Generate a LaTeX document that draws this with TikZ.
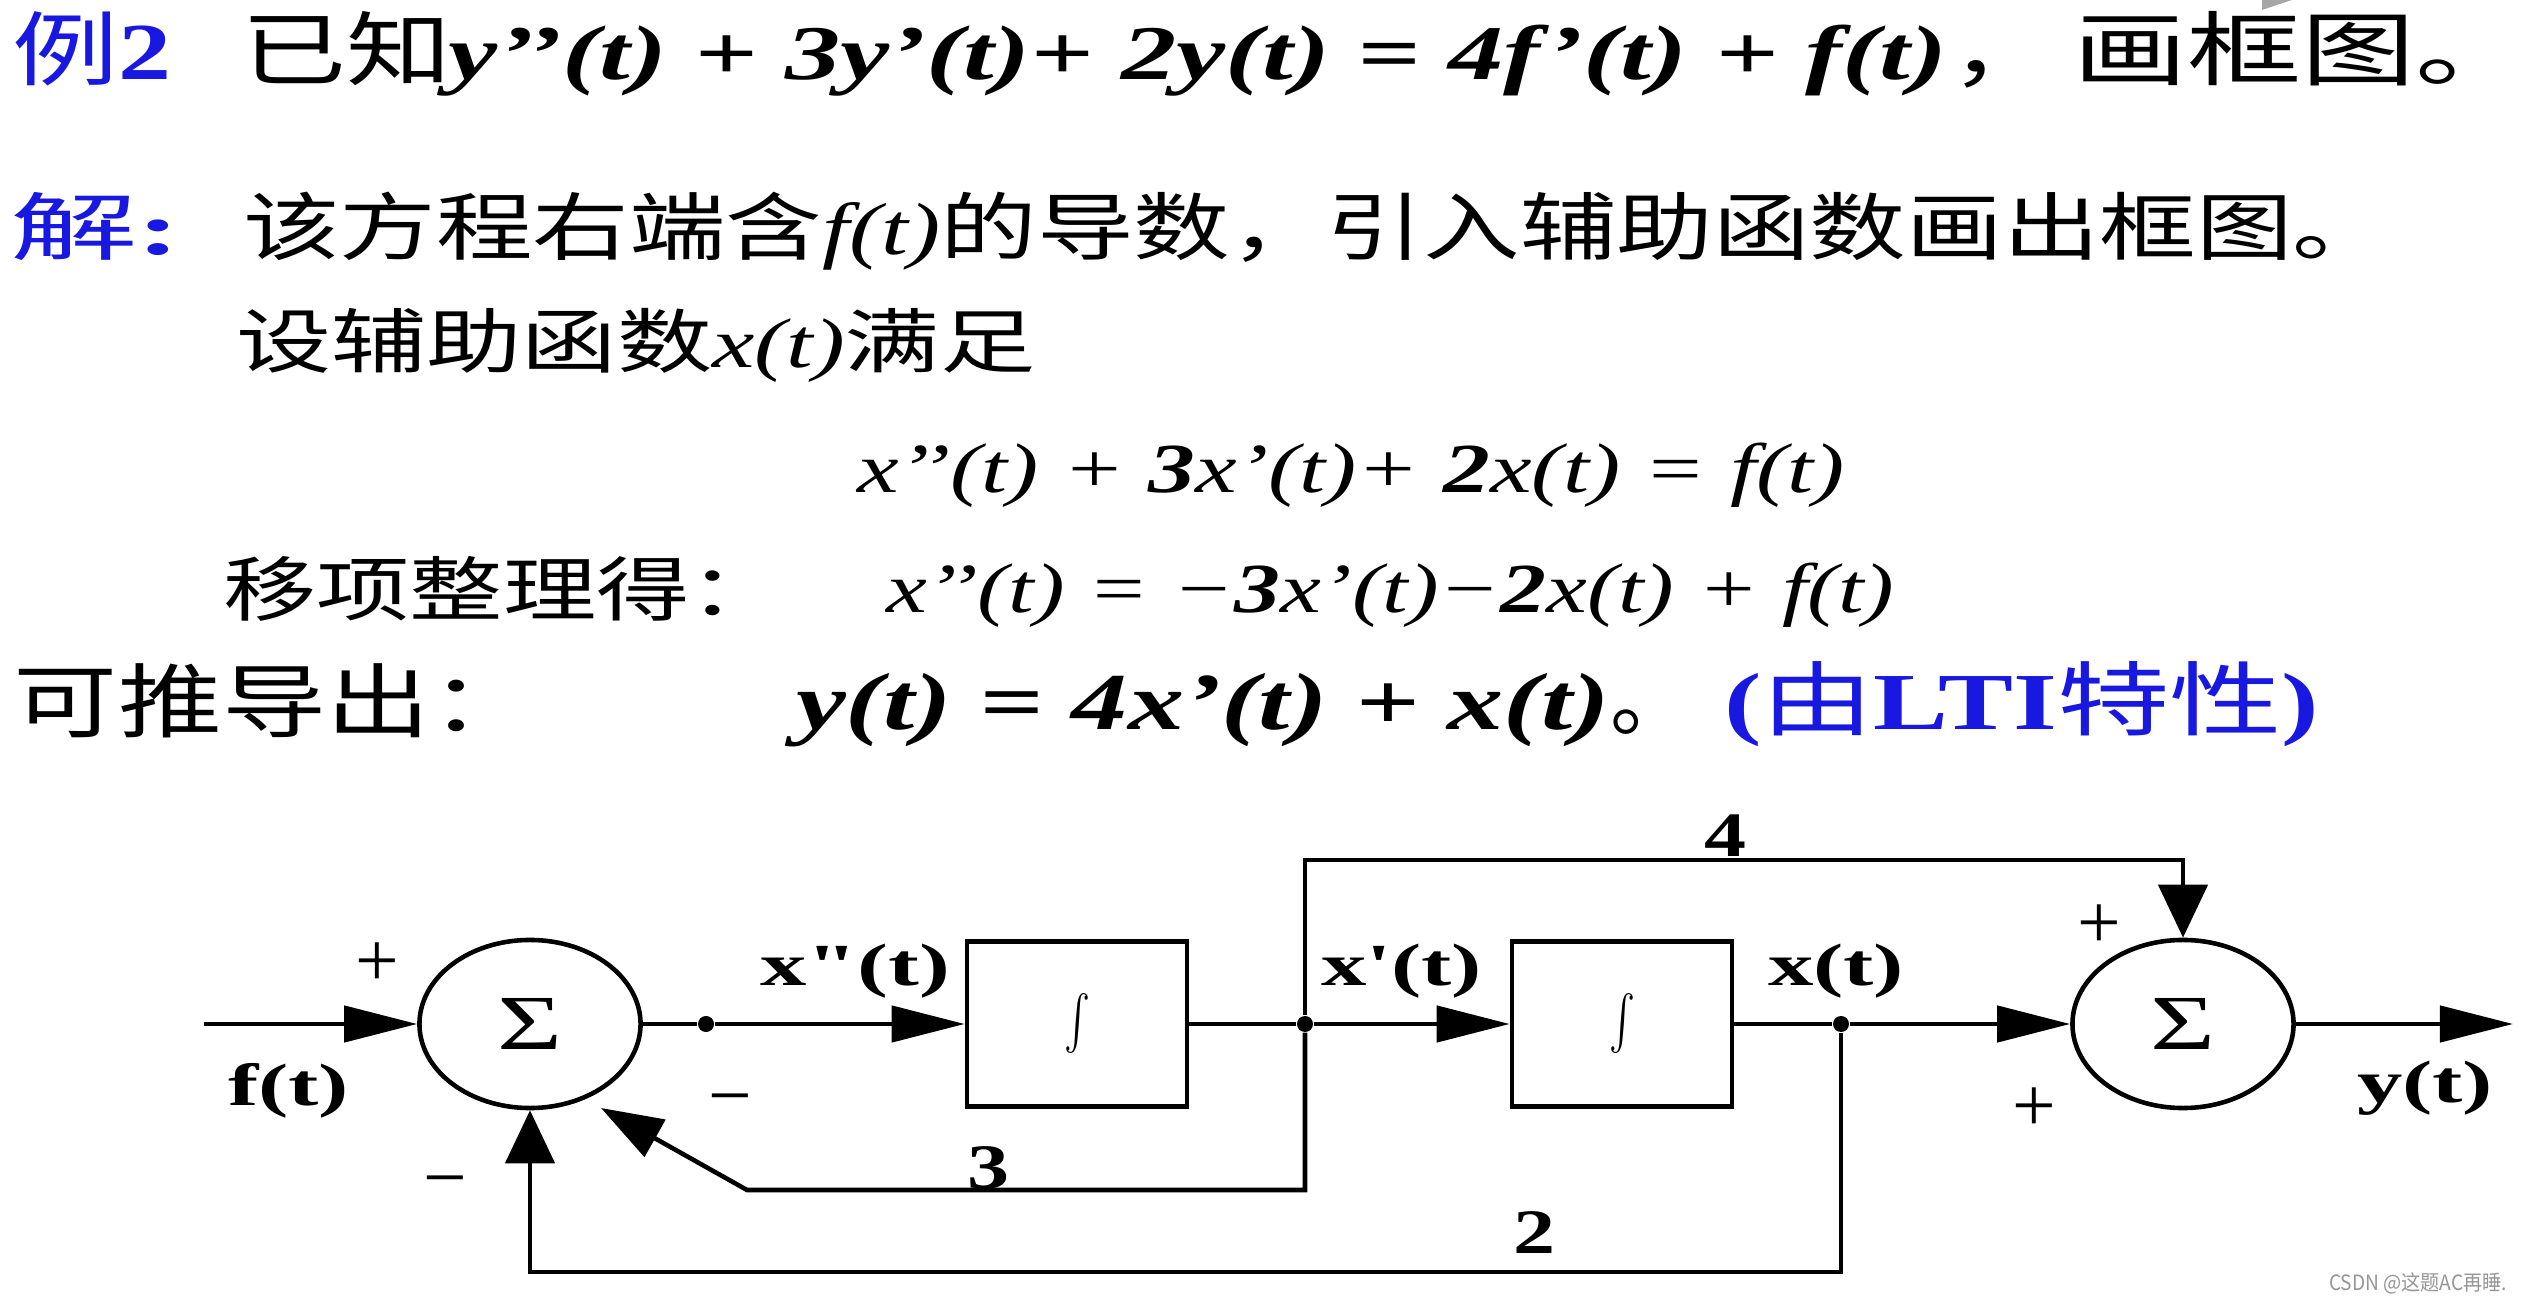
\documentclass[tikz,border=0pt]{standalone}
\usepackage{fontspec}
\usepackage{graphicx}
\setmainfont{Liberation Serif}
\newfontfamily\cjk{Noto Sans CJK SC}
\usetikzlibrary{arrows.meta,shapes.geometric}
\definecolor{blueT}{RGB}{24,24,225}
\definecolor{wmgray}{RGB}{150,150,150}
\newcommand\zh[1]{{\cjk\mdseries #1}}
\newcommand\fitw[2]{\resizebox{#1}{\height}{#2}}
\newcommand\fsz[1]{\fontsize{#1}{#1}\selectfont}
\newcommand\intg{\resizebox*{0.26cm}{0.6cm}{$\int$}}
\newcommand\sumsym{\resizebox{0.65cm}{0.51cm}{Σ}}
\tikzset{
  txt/.style={anchor=base west, inner sep=0pt, outer sep=0pt},
  ln/.style={line width=1.3pt},
  harr/.style={ln, -{Triangle[length=7.3mm,width=3.6mm]}},
  varr/.style={ln, -{Triangle[length=5.3mm,width=4.9mm]}},
  darr/.style={ln, -{Triangle[length=6.2mm,width=4.2mm]}},
  sumnode/.style={ellipse, draw, ln, minimum width=2.21cm, minimum height=1.68cm, inner sep=0pt},
  intbox/.style={rectangle, draw, ln, minimum width=2.2cm, minimum height=1.65cm, inner sep=0pt},
  dot/.style={circle, fill, inner sep=0pt, minimum size=0.16cm},
  sgn/.style={inner sep=0pt, font=\fsz{22}},
  gain/.style={anchor=base, inner sep=0pt},
}
\begin{document}
\begin{tikzpicture}[x=0.01cm,y=-0.01cm]
\fill[white] (0,0) rectangle (2524,1301);
\useasboundingbox (0,0) rectangle (2524,1301);
% ---------- text ----------
\node[txt,text=blueT] (t1a) at (12,80) {\fsz{23}\fitw{1.59cm}{\zh{例}\textbf{2}}};
\node[txt] (t1b) at (241,80) {\fsz{23}\fitw{2.10cm}{\zh{已知}}};
\node[txt] (t1c) at (448,80) {\fsz{22}\fitw{14.98cm}{\bfseries\itshape y’’(t) + 3y’(t)+ 2y(t) = 4f’(t) + f(t)}};
\node[txt] (t1d) at (1950,80) {\fsz{23}\fitw{1.05cm}{\zh{，}}};
\node[txt] (t1e) at (2073,80) {\fsz{23}\fitw{4.56cm}{\zh{画框图。}}};

\node[txt,text=blueT] (t2a) at (10,255) {\fsz{21}\fitw{1.70cm}{\zh{解}\textbf{:}}};
\node[txt] (t2b) at (243,255) {\fsz{21}\fitw{21.45cm}{\zh{该方程右端含}\textit{f(t)}\zh{的导数，引入辅助函数画出框图。}}};

\node[txt] (t3) at (236,368) {\fsz{20}\fitw{7.99cm}{\zh{设辅助函数}\textit{x(t)}\zh{满足}}};

\node[txt] (t4) at (857,493) {\fsz{20}\fitw{9.87cm}{\itshape x’’(t) + \textbf{3}x’(t)+ \textbf{2}x(t) = f(t)}};

\node[txt] (t5a) at (223,616) {\fsz{20}\fitw{5.60cm}{\zh{移项整理得：}}};
\node[txt] (t5b) at (886,613) {\fsz{20}\fitw{10.08cm}{\itshape x’’(t) = −\textbf{3}x’(t)−\textbf{2}x(t) + f(t)}};

\node[txt] (t6a) at (14,732) {\fsz{23}\fitw{5.20cm}{\zh{可推导出：}}};
\node[txt] (t6b) at (796,730) {\fsz{23}\fitw{8.13cm}{\bfseries\itshape y(t) = 4x’(t) + x(t)}};
\node[txt] (t6c) at (1610,730) {\fsz{23}\zh{。}};
\node[txt,text=blueT] (t6d) at (1724,730) {\fsz{23}\fitw{5.95cm}{\bfseries(\zh{由}LTI\zh{特性})}};

% ---------- diagram ----------
\node[sumnode] (s1) at (530,1024) {\sumsym};
\node[intbox] (b1) at (1077,1024) {\intg};
\node[intbox] (b2) at (1622,1024) {\intg};
\node[sumnode] (s2) at (2183,1024) {\sumsym};
\node[dot] (d1) at (706,1024) {};
\node[dot] (j1) at (1305,1024) {};
\node[dot] (j2) at (1841,1024) {};
\coordinate (in) at (204,1024);
\coordinate (out) at (2513,1024);
\coordinate (c4) at (1305,860);
\coordinate (c3a) at (1305,1190);
\coordinate (c3b) at (747,1190);
\coordinate (t3) at (601,1108);
\coordinate (c2a) at (1841,1272);

\draw[harr] (in) -- (s1);
\draw[ln] (s1) -- (d1);
\draw[harr] (d1) -- (b1);
\draw[ln] (b1) -- (j1);
\draw[harr] (j1) -- (b2);
\draw[ln] (b2) -- (j2);
\draw[harr] (j2) -- (s2);
\draw[harr] (s2) -- (out);
\draw[varr] (j1) -- (c4) -| (s2.north);
\draw[darr] (j1) -- (c3a) -- (c3b) -- (t3);
\draw[varr] (j2) -- (c2a) -| (s1.south);

% signs
\node[sgn] (p1) at (377,965) {+};
\node[sgn] (m1) at (730,1108) {−};
\node[sgn] (m2) at (445,1190) {−};
\node[sgn] (p2) at (2099,927) {+};
\node[sgn] (p3) at (2034,1110) {+};

% labels
\node[txt] (lx2) at (760,985) {\fsz{17}\fitw{1.90cm}{\bfseries x\textquotedbl(t)}};
\node[txt] (lx1) at (1321,985) {\fsz{17}\fitw{1.61cm}{\bfseries x\textquotesingle(t)}};
\node[txt] (lx0) at (1768,985) {\fsz{17}\fitw{1.36cm}{\bfseries x(t)}};
\node[txt] (lf) at (228,1106) {\fsz{17}\fitw{1.21cm}{\bfseries f(t)}};
\node[txt] (ly) at (2357,1103) {\fsz{17}\fitw{1.36cm}{\bfseries y(t)}};
\node[gain] (g4) at (1725,857) {\fsz{18}\fitw{0.42cm}{\bfseries 4}};
\node[gain] (g3) at (988,1188) {\fsz{18}\fitw{0.42cm}{\bfseries 3}};
\node[gain] (g2) at (1534,1253) {\fsz{18}\fitw{0.42cm}{\bfseries 2}};

% watermark and cursor mark
\node[txt,text=wmgray] (wmk) at (2329,1290) {\fsz{6}\fitw{1.78cm}{\zh{CSDN @这题AC再睡.}}};
\fill[gray!70] (2262,10) -- (2292,0) -- (2262,0) -- cycle;
\end{tikzpicture}
\end{document}
